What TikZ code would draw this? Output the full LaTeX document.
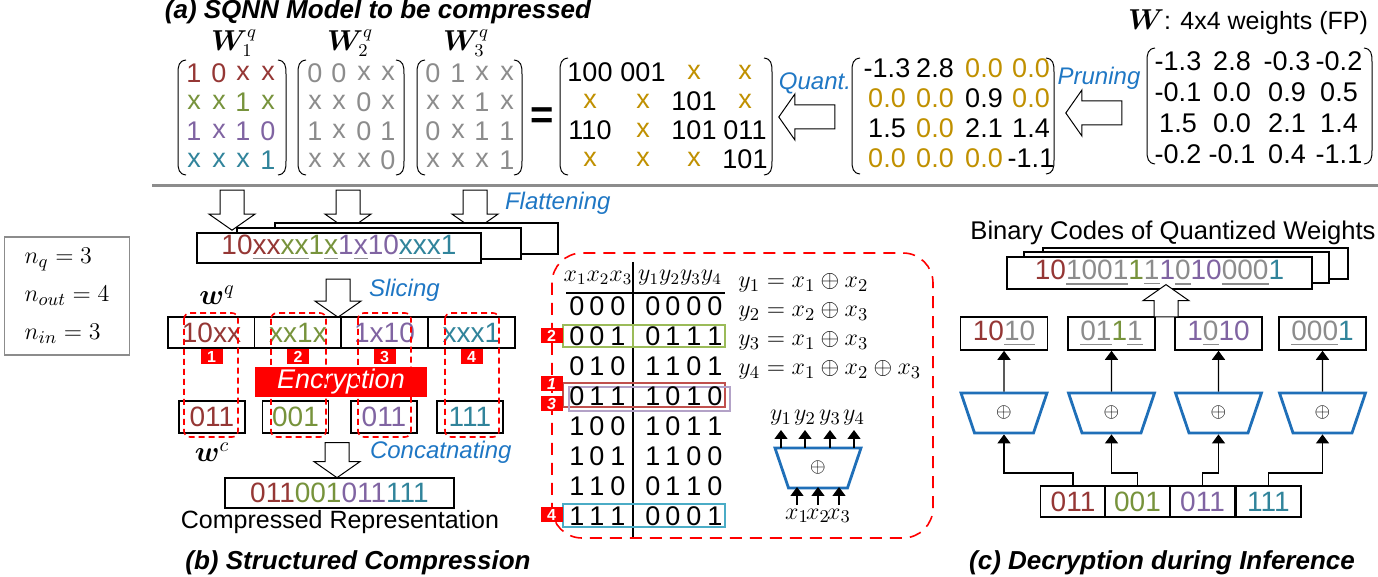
\documentclass[tikz,border=0pt]{standalone}
\usepackage{amsmath,amssymb,bm}
\usepackage{fontspec}
\setmainfont{Liberation Sans}
\usetikzlibrary{arrows.meta,calc,positioning,shapes.geometric,shapes.arrows}
\definecolor{rd}{HTML}{953735}
\definecolor{gr}{HTML}{77933C}
\definecolor{pu}{HTML}{8064A2}
\definecolor{te}{HTML}{31849B}
\definecolor{gy}{HTML}{8C8C8C}
\definecolor{go}{HTML}{C09000}
\definecolor{bl}{HTML}{1F77C4}
\definecolor{xblu}{HTML}{1F6FB8}
\definecolor{rgrn}{HTML}{9BBB59}
\definecolor{rred}{HTML}{C0504D}
\definecolor{rpur}{HTML}{B3A2C7}
\definecolor{rtea}{HTML}{4BACC6}
\newcommand\gu[2]{{\color{gy}\underline{\textcolor{#1}{#2}}}}
\newcommand\mbrk[4]{%
  \draw[line width=0.5pt] (#1+8,#3) .. controls (#1+1,#3+1) and (#1,#3+5) .. (#1,#3+14) -- (#1,#4-14) .. controls (#1,#4-5) and (#1+1,#4-1) .. (#1+8,#4);
  \draw[line width=0.5pt] (#2-8,#3) .. controls (#2-1,#3+1) and (#2,#3+5) .. (#2,#3+14) -- (#2,#4-14) .. controls (#2,#4-5) and (#2-1,#4-1) .. (#2-8,#4);}
\tikzset{
  ttl/.style={font=\fontsize{13}{15}\bfseries\itshape\selectfont, inner sep=0pt},
  lbl/.style={font=\fontsize{12.5}{14}\selectfont},
  mat/.style={font=\fontsize{13.5}{15}\selectfont, inner sep=0pt},
  blu/.style={font=\fontsize{12}{14}\itshape\selectfont, text=bl},
  box/.style={draw, line width=0.8pt, fill=white, inner sep=0pt, font=\fontsize{14}{16}\selectfont},
  badge/.style={fill=red, text=white, inner sep=0pt, minimum width=11pt, minimum height=7.5pt, font=\fontsize{8}{9}\bfseries\selectfont},
  fat/.style={single arrow, draw, fill=white, line width=0.5pt, inner sep=5.75pt,
    single arrow head extend=5.5pt, single arrow tip angle=110},
  slc/.style={draw=red, densely dashed, line width=0.8pt, rounded corners=3pt},
  xor/.style={trapezium, trapezium angle=75, trapezium stretches=true, shape border rotate=180,
    draw=xblu, line width=1.4pt, minimum width=43pt, minimum height=20pt, inner sep=0pt},
  tip/.style={-{Triangle[width=6.5pt,length=4.5pt]}, line width=0.7pt}
}
\begin{document}
\begin{tikzpicture}[x=0.5pt,y=-0.5pt]
\useasboundingbox (0,0) rectangle (1378,577);
% (a) model
\node[ttl] (ta) at (378,12) {(a) SQNN Model to be compressed};
\foreach \n/\x in {1/234,2/350,3/466}
  \node[inner sep=0pt] (wl\n) at (\x,43) {\fontsize{13.5}{15}\selectfont$\bm{W}_{\n}^{q}$};
\mbrk{178}{286}{60}{175}
\mbrk{298}{404}{60}{175}
\mbrk{417}{522}{60}{175}
\foreach \cc/\a/\b/\c/\d [count=\i] in {rd/1/0/x/x,gr/x/x/1/x,pu/1/x/1/0,te/x/x/x/1}{
  \foreach \v/\x in {\a/194,\b/219,\c/243,\d/268}
    \node[mat, text=\cc] at (\x,44+29*\i) {\v};}
\foreach \a/\b/\c/\d [count=\i] in {0/0/x/x,x/x/0/x,1/x/0/1,x/x/x/0}{
  \foreach \v/\x in {\a/315,\b/339,\c/364,\d/388}
    \node[mat, text=gy] at (\x,44+29*\i) {\v};}
\foreach \a/\b/\c/\d [count=\i] in {0/1/x/x,x/x/1/x,0/x/1/1,x/x/x/1}{
  \foreach \v/\x in {\a/433,\b/458,\c/482,\d/507}
    \node[mat, text=gy] at (\x,44+29*\i) {\v};}
\node[font=\fontsize{20}{20}\bfseries\selectfont] (eq) at (542,118) {=};
\def\X{\textcolor{go}{x}}
\mbrk{560}{772}{58}{175}
\foreach \a/\b/\c/\d [count=\i] in {100/001/\X/\X,\X/\X/101/\X,110/\X/101/011,\X/\X/\X/101}{
  \foreach \v/\x in {\a/590,\b/643,\c/694,\d/745}
    \node[mat] at (\x,43+29*\i) {\v};}
\node[fat, shape border rotate=180, minimum height=28pt] (qa) at (811,117) {};
\node[blu] (ql) at (815,83) {Quant.};
\def\Z{\textcolor{go}{0.0}}
\mbrk{852}{1054}{58}{174}
\foreach \a/\b/\c/\d [count=\i] in {-1.3/2.8/\Z/\Z,\Z/\Z/0.9/\Z,1.5/\Z/2.1/1.4,\Z/\Z/\Z/-1.1}{
  \foreach \v/\x in {\a/887,\b/935,\c/984,\d/1031}
    \node[mat] at (\x,38+30*\i) {\v};}
\node[fat, shape border rotate=180, minimum height=28pt] (pa) at (1098,113) {};
\node[blu] (pl) at (1099,78) {Pruning};
\node[lbl, anchor=east] (wt) at (1375,22) {\fontsize{14}{16}\selectfont$\bm{W}$\fontsize{12.5}{14}\selectfont: 4x4 weights (FP)};
\mbrk{1147}{1372}{48}{164}
\foreach \a/\b/\c/\d [count=\i] in {-1.3/2.8/-0.3/-0.2,-0.1/0.0/0.9/0.5,1.5/0.0/2.1/1.4,-0.2/-0.1/0.4/-1.1}{
  \foreach \v/\x in {\a/1178,\b/1232,\c/1287,\d/1339}
    \node[mat] at (\x,30+31*\i) {\v};}
\draw[gy, line width=1.5pt] (152,186) -- (1378,186);
% left parameters
\node[draw=gy, line width=0.8pt, minimum width=62.5pt, minimum height=59pt, align=left,
  font=\fontsize{13}{17}\selectfont] (np) at (67,296) {$n_q = 3$\\[2pt]$n_{out} = 4$\\[2pt]$n_{in} = 3$};
% (b) structured compression
\foreach \n/\x in {1/232,2/348,3/475}
  \node[fat, shape border rotate=270, minimum height=20pt] (fa\n) at (\x,206) {};
\node[blu, anchor=west] (fl) at (498,203) {Flattening};
\node[box, minimum width=141.5pt, minimum height=15.5pt] (fb3) at (416.5,238.5) {};
\node[box, minimum width=142pt, minimum height=15.5pt] (fb2) at (379,243.5) {};
\node[box, minimum width=142pt, minimum height=15pt] (fb1) at (339,248) {\textcolor{rd}{10}\gu{rd}{xx}\gu{gr}{xx}\textcolor{gr}{1}\gu{gr}{x}\textcolor{pu}{1}\gu{pu}{x}\textcolor{pu}{10}\gu{te}{xxx}\textcolor{te}{1}};
\node[fat, shape border rotate=270, minimum height=19pt] (sa) at (338,294) {};
\node[blu, anchor=west] (sl) at (362,290) {Slicing};
\node (wq) at (217,295) {\fontsize{14}{16}\selectfont$\bm{w}^{q}$};
\foreach \t/\cc/\x [count=\i] in {10xx/rd/211.5,xx1x/gr/298,1x10/pu/384.5,xxx1/te/471.5}{
  \node[box, minimum width=43.5pt, minimum height=15.5pt, text=\cc] (s\i) at (\x,332.5) {\t};
  \node[badge] (sb\i) at (\x,357) {\i};}
\node[fill=red, minimum width=86pt, minimum height=15pt, text=white, inner sep=0pt,
  font=\fontsize{13.5}{15}\itshape\selectfont] (enc) at (341,382) {Encryption};
\foreach \t/\cc/\x [count=\i] in {011/rd/212,001/gr/295.5,011/pu/384,111/te/470}{
  \node[box, minimum width=33pt, minimum height=16pt, text=\cc] (c\i) at (\x,417) {\t};}
\foreach \a/\b [count=\i] in {184/238,271/326,358/411,445/499}
  \draw[slc] (\a,313) rectangle (\b,437);
\node (wc) at (212,452) {\fontsize{14}{16}\selectfont$\bm{w}^{c}$};
\node[fat, shape border rotate=270, minimum height=17.5pt] (ca) at (337,456) {};
\node[blu, anchor=west] (cl) at (363,452) {Concatnating};
\node[box, minimum width=114.5pt, minimum height=15pt] (cb) at (339.5,493) {\textcolor{rd}{011}\textcolor{gr}{001}\textcolor{pu}{011}\textcolor{te}{111}};
\node[lbl] (cr) at (340,522) {Compressed Representation};
\node[ttl] (tb) at (358,563) {(b) Structured Compression};
% truth table
\draw[red, dashed, line width=0.8pt, dash pattern=on 6pt off 4pt, rounded corners=15pt] (552,253) rectangle (933,538);
\draw[line width=0.7pt] (633,262) -- (633,537);
\draw[line width=0.7pt] (566,293) -- (725,293);
\node (hx) at (598,278) {\fontsize{12}{14}\selectfont$x_1x_2x_3$};
\node (hy) at (680,278) {\fontsize{12}{14}\selectfont$y_1y_2y_3y_4$};
\draw[rgrn, line width=1pt] (563,325) rectangle (725,347) (633,325) -- (633,347);
\draw[rred, line width=1pt] (563,383) rectangle (725,407);
\draw[rpur, line width=1pt] (569,387) rectangle (730,411);
\draw[rtea, line width=1pt] (563,504) rectangle (725,527);
\foreach \a/\b/\c/\d/\e/\f/\g [count=\i] in {0/0/0/0/0/0/0,0/0/1/0/1/1/1,0/1/0/1/1/0/1,0/1/1/1/0/1/0,1/0/0/1/0/1/1,1/0/1/1/1/0/0,1/1/0/0/1/1/0,1/1/1/0/0/0/1}{
  \foreach \v/\x in {\a/577,\b/597,\c/618,\d/653,\e/673,\f/694,\g/715}
    \node[mat] at (\x,276+30*\i) {\v};}
\node[badge] (tb2) at (551.5,335.5) {2};
\node[badge] (tb1) at (551.5,383.5) {\itshape 1};
\node[badge] (tb3) at (551.5,404) {\itshape 3};
\draw[white, line width=0.6pt] (544,394) -- (559,394);
\node[badge] (tb4) at (551.5,515) {4};
\foreach \e [count=\i] in {{y_1 = x_1 \oplus x_2},{y_2 = x_2 \oplus x_3},{y_3 = x_1 \oplus x_3},{y_4 = x_1 \oplus x_2 \oplus x_3}}
  \node[anchor=west, inner sep=0pt] (eq\i) at (738,254+29*\i) {\fontsize{13}{15}\selectfont$\e$};
\node[xor] (xt) at (818,468) {$\oplus$};
\foreach \x [count=\i] in {781,805,830,854}{
  \coordinate (yo\i) at (\x,448);
  \node[inner sep=0pt] (yl\i) at (\x,418) {\fontsize{12.5}{15}\selectfont$y_{\i}$};
  \draw[tip] (yo\i) -- (\x,430);}
\foreach \x [count=\i] in {797,818,839}{
  \coordinate (xi\i) at (\x,487);
  \node[inner sep=0pt] (xl\i) at (\x,516) {\fontsize{12.5}{15}\selectfont$x_{\i}$};
  \draw[tip] (\x,505) -- (xi\i);}
% (c) decryption
\node[font=\fontsize{12.8}{15}\selectfont] (bt) at (1173,233) {Binary Codes of Quantized Weights};
\node[box, minimum width=152.5pt, minimum height=15.5pt] (bb3) at (1195.5,263.5) {};
\node[box, minimum width=152.5pt, minimum height=15.5pt] (bb2) at (1176.5,267.5) {};
\node[box, minimum width=152.5pt, minimum height=16pt] (bb1) at (1159.5,273) {\textcolor{rd}{10}\gu{gy}{10}\gu{gy}{01}\textcolor{gr}{1}\gu{gy}{1}\textcolor{pu}{1}\gu{gy}{0}\textcolor{pu}{10}\gu{gy}{000}\textcolor{te}{1}};
\foreach \t/\x [count=\i] in {{\textcolor{rd}{10}\gu{gy}{10}}/1004,{\gu{gy}{01}\textcolor{gr}{1}\gu{gy}{1}}/1111.5,{\textcolor{pu}{1}\gu{gy}{0}\textcolor{pu}{10}}/1218.5,{\gu{gy}{000}\textcolor{te}{1}}/1322.5}{
  \node[box, minimum width=43.5pt, minimum height=16.5pt] (d\i) at (\x,333.5) {\t};
  \node[xor] (x\i) at (\x,413) {$\oplus$};
  \draw[tip] (x\i.north) -- (d\i.south);}
\node[fat, shape border rotate=90, minimum height=15pt] (ua) at (1166,305) {};
\foreach \t/\cc/\x [count=\i] in {011/rd/1073,001/gr/1137.5,011/pu/1202.5,111/te/1268.5}
  \node[box, minimum width=32.5pt, minimum height=15.5pt, text=\cc] (e\i) at (\x,501.5) {\t};
\foreach \i in {1,...,4}
  \draw[tip] (e\i.north) -- ++(0,-12) -| (x\i.south);
\node[ttl] (tc) at (1162,563) {(c) Decryption during Inference};
\end{tikzpicture}
\end{document}
